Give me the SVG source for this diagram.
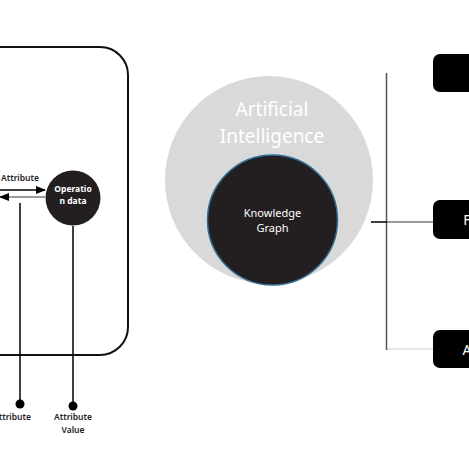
<svg xmlns="http://www.w3.org/2000/svg" width="469" height="469" viewBox="0 0 469 469">
<style>
.lbl{font-family:"Noto Sans","Liberation Sans",sans-serif;font-size:8.5px;font-weight:600;fill:#222;text-anchor:middle}
.wt{font-family:"Noto Sans","Liberation Sans",sans-serif;fill:#fff;text-anchor:middle}
.ln{stroke:#000;stroke-width:1.5;fill:none}
.gl{stroke:#777;stroke-width:1.5;fill:none}
.box{fill:#000}
</style>
<defs>
<marker id="ah" markerWidth="10" markerHeight="8" refX="9" refY="4" orient="auto" markerUnits="userSpaceOnUse">
<path d="M0,0 L10,4 L0,8 z" fill="#000"/>
</marker>
</defs>
<rect width="469" height="469" fill="#fff"/>
<g id="container">
<path d="M-10,47 H100 A28,28 0 0 1 128,75 V327 A28,28 0 0 1 100,355 H-10" fill="none" stroke="#111" stroke-width="2"/>
</g>
<g id="connectors">
<line class="ln" x1="0" y1="190" x2="45" y2="190" marker-end="url(#ah)"/>
<line class="gl" x1="45" y1="197" x2="0" y2="197" marker-end="url(#ah)"/>
<line class="ln" x1="20" y1="203" x2="20" y2="404"/>
<line class="ln" x1="73" y1="226" x2="73" y2="406"/>
<circle cx="20" cy="404" r="4.5" fill="#000"/>
<circle cx="73" cy="406" r="4.5" fill="#000"/>
<line x1="386.5" y1="73" x2="386.5" y2="350" stroke="#555" stroke-width="1.5"/>
<line x1="371" y1="222" x2="387" y2="222" stroke="#000" stroke-width="1.5"/>
<line x1="387" y1="222" x2="433" y2="222" stroke="#777" stroke-width="1.5"/>
<line x1="387" y1="349" x2="433" y2="349" stroke="#ccc" stroke-width="1"/>
</g>
<text class="lbl" x="20" y="181">Attribute</text>
<g id="operation">
<circle cx="73" cy="198" r="27.5" fill="#231f20"/>
<text class="wt" x="73" y="192" font-size="8.5" font-weight="bold">Operatio</text>
<text class="wt" x="73" y="204" font-size="8.5" font-weight="bold">n data</text>
</g>
<g id="attr1">
<text class="lbl" x="12" y="420">Attribute</text>
</g>
<g id="attr2">
<text class="lbl" x="73" y="420">Attribute</text>
<text class="lbl" x="73" y="433">Value</text>
</g>
<g id="ai">
<circle cx="269" cy="180" r="104" fill="#d9d9d9"/>
<text class="wt" x="272" y="116" font-size="19" fill="#f2f2f2">Artificial</text>
<text class="wt" x="272" y="143" font-size="19" fill="#f2f2f2">Intelligence</text>
</g>
<g id="kg">
<circle cx="272.5" cy="220" r="65" fill="#231f20" stroke="#2f6f99" stroke-width="1.5"/>
<text class="wt" x="272.5" y="217" font-size="11">Knowledge</text>
<text class="wt" x="272.5" y="232" font-size="11">Graph</text>
</g>
<g id="box1"><rect class="box" x="433" y="54" width="60" height="38" rx="7"/></g>
<g id="box2"><rect class="box" x="433" y="200" width="60" height="39" rx="7"/><text class="wt" x="467" y="225" font-size="14">F</text></g>
<g id="box3"><rect class="box" x="433" y="330" width="60" height="38" rx="7"/><text class="wt" x="467" y="355" font-size="14">A</text></g>
</svg>
